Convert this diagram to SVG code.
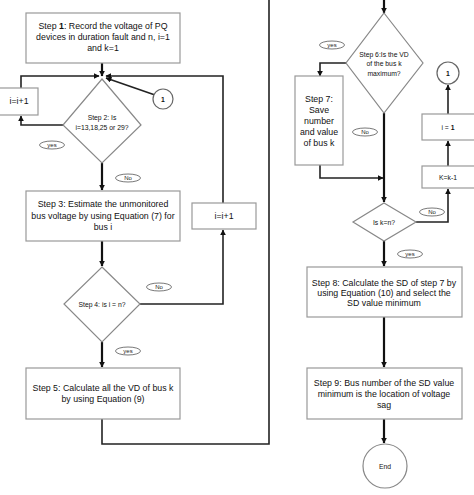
<svg xmlns="http://www.w3.org/2000/svg" width="474" height="495" viewBox="0 0 474 495">
<defs>
<marker id="ah" viewBox="0 0 10 10" refX="9" refY="5" markerWidth="6" markerHeight="6" markerUnits="userSpaceOnUse" orient="auto">
<path d="M0,0 L10,5 L0,10 z" fill="#111"/>
</marker>
<style>
.box{fill:#fff;stroke:#999;stroke-width:1.2}
.dia{fill:#fff;stroke:#888;stroke-width:1.2}
.c{fill:none;stroke:#222;stroke-width:1.6}
.m{fill:none;stroke:#111;stroke-width:2.2}
.t{font-family:"Liberation Sans",Arial,sans-serif;font-size:8.8px;fill:#111;text-anchor:middle}
.s{font-family:"Liberation Sans",Arial,sans-serif;font-size:6.8px;fill:#111;text-anchor:middle}
.lb{fill:#fff;stroke:#555;stroke-width:0.8}
.l{font-family:"Liberation Sans",Arial,sans-serif;font-size:6px;fill:#222;text-anchor:middle}
</style>
</defs>
<rect width="474" height="495" fill="#fff"/>
<g id="connectors">
<path class="m" d="M102,63 V76" marker-end="url(#ah)"/>
<path class="c" d="M63,125 H21 V116" marker-end="url(#ah)"/>
<path class="c" d="M21,88 V76 H99" marker-end="url(#ah)"/>
<path class="c" d="M155,95 L106,78" marker-end="url(#ah)"/>
<path class="c" d="M223,203 V76 H106" marker-end="url(#ah)"/>
<path class="m" d="M102,163 V190" marker-end="url(#ah)"/>
<path class="m" d="M102,241 V266" marker-end="url(#ah)"/>
<path class="c" d="M140,304 H223 V230" marker-end="url(#ah)"/>
<path class="m" d="M102,342 V367" marker-end="url(#ah)"/>
<path class="c" d="M102,419 V444 H269 V0"/>
<path class="m" d="M384,0 V13" marker-end="url(#ah)"/>
<path class="c" d="M346,63 H320 V76" marker-end="url(#ah)"/>
<path class="m" d="M384,113 V202" marker-end="url(#ah)"/>
<path class="c" d="M320,165 V178 H383" marker-end="url(#ah)"/>
<path class="c" d="M416,222 H448 V189" marker-end="url(#ah)"/>
<path class="c" d="M448,166 V141" marker-end="url(#ah)"/>
<path class="c" d="M448,114 V85" marker-end="url(#ah)"/>
<path class="m" d="M384,241 V266" marker-end="url(#ah)"/>
<path class="m" d="M384,317 V367" marker-end="url(#ah)"/>
<path class="m" d="M384,419 V443" marker-end="url(#ah)"/>
</g>
<g id="step1">
<rect class="box" x="26" y="13" width="154" height="50"/>
<text class="t" x="103" y="29">Step <tspan font-weight="bold">1</tspan>: Record the voltage of PQ</text>
<text class="t" x="103" y="40">devices in duration fault and n, i=1</text>
<text class="t" x="103" y="51">and k=1</text>
</g>
<g id="step2">
<path class="dia" d="M102,79 L141,125 L102,163 L63,125 Z"/>
<text class="s" x="102" y="120">Step 2: Is</text>
<text class="s" x="102" y="130">i=13,18,25 or 29?</text>
</g>
<g id="inc-left">
<rect class="box" x="-1" y="88" width="39" height="27"/>
<text class="t" x="19" y="104">i=i+1</text>
</g>
<g id="circle1-left">
<circle cx="163" cy="99" r="10" fill="#fff" stroke="#666" stroke-width="1.2"/>
<text class="s" x="163" y="101.5" font-weight="bold">1</text>
</g>
<g id="step3">
<rect class="box" x="26" y="191" width="154" height="50"/>
<text class="t" x="103" y="207">Step 3: Estimate the unmonitored</text>
<text class="t" x="103" y="219">bus voltage by using Equation (7) for</text>
<text class="t" x="103" y="230">bus i</text>
</g>
<g id="inc-right">
<rect class="box" x="192" y="203" width="64" height="26"/>
<text class="t" x="224" y="219">i=i+1</text>
</g>
<g id="step4">
<path class="dia" d="M102,267 L140,304 L102,342 L64,304 Z"/>
<text class="s" x="102" y="307">Step 4: is i = n?</text>
</g>
<g id="step5">
<rect class="box" x="26" y="368" width="154" height="51"/>
<text class="t" x="103" y="391">Step 5: Calculate all the VD of bus k</text>
<text class="t" x="103" y="402">by using Equation (9)</text>
</g>
<g id="step6">
<path class="dia" d="M384,13 L423,63 L384,113 L346,63 Z"/>
<text class="s" x="384" y="57">Step 6:Is the VD</text>
<text class="s" x="384" y="66">of the bus k</text>
<text class="s" x="384" y="76">maximum?</text>
</g>
<g id="step7">
<rect class="box" x="295" y="76" width="48" height="89"/>
<text class="t" x="319" y="102" font-size="9">Step 7:</text>
<text class="t" x="319" y="113" font-size="9">Save</text>
<text class="t" x="319" y="124" font-size="9">number</text>
<text class="t" x="319" y="135" font-size="9">and value</text>
<text class="t" x="319" y="146" font-size="9">of bus k</text>
</g>
<g id="circle1-right">
<circle cx="448" cy="73" r="11" fill="#fff" stroke="#666" stroke-width="1.2"/>
<text class="s" x="448" y="75.5" font-weight="bold">1</text>
</g>
<g id="i-reset">
<rect class="box" x="422" y="114" width="53" height="26"/>
<text class="s" x="448" y="130">i = <tspan font-weight="bold">1</tspan></text>
</g>
<g id="k-dec">
<rect class="box" x="422" y="166" width="53" height="22"/>
<text class="s" x="448" y="179.5">K=k-1</text>
</g>
<g id="kn">
<path class="dia" d="M384,203 L416,222 L384,241 L353,222 Z"/>
<text class="s" x="384" y="224.5">Is k=n?</text>
</g>
<g id="step8">
<rect class="box" x="307" y="267" width="155" height="50"/>
<text class="t" x="384" y="286">Step 8: Calculate the SD of step 7 by</text>
<text class="t" x="384" y="296">using Equation (10) and select the</text>
<text class="t" x="384" y="306">SD value minimum</text>
</g>
<g id="step9">
<rect class="box" x="307" y="368" width="155" height="51"/>
<text class="t" x="384" y="386">Step 9: Bus number of the SD value</text>
<text class="t" x="384" y="397">minimum is the location of voltage</text>
<text class="t" x="384" y="408">sag</text>
</g>
<g id="end">
<circle cx="385" cy="466" r="22" fill="#fff" stroke="#888" stroke-width="1.2"/>
<text class="s" x="385" y="468.5">End</text>
</g>
<g id="labels">
<ellipse class="lb" cx="52" cy="145" rx="12.5" ry="4"/><text class="l" x="52" y="147">yes</text>
<ellipse class="lb" cx="128" cy="178" rx="12.5" ry="4"/><text class="l" x="128" y="180">No</text>
<ellipse class="lb" cx="159" cy="287" rx="12.5" ry="4"/><text class="l" x="159" y="289">No</text>
<ellipse class="lb" cx="128" cy="351" rx="12.5" ry="4"/><text class="l" x="128" y="353">yes</text>
<ellipse class="lb" cx="332" cy="45" rx="12.5" ry="4"/><text class="l" x="332" y="47">yes</text>
<ellipse class="lb" cx="365" cy="132" rx="12.5" ry="4"/><text class="l" x="365" y="134">No</text>
<ellipse class="lb" cx="432" cy="212" rx="12.5" ry="4"/><text class="l" x="432" y="214">No</text>
<ellipse class="lb" cx="410" cy="254" rx="12.5" ry="4"/><text class="l" x="410" y="256">yes</text>
</g>
</svg>
